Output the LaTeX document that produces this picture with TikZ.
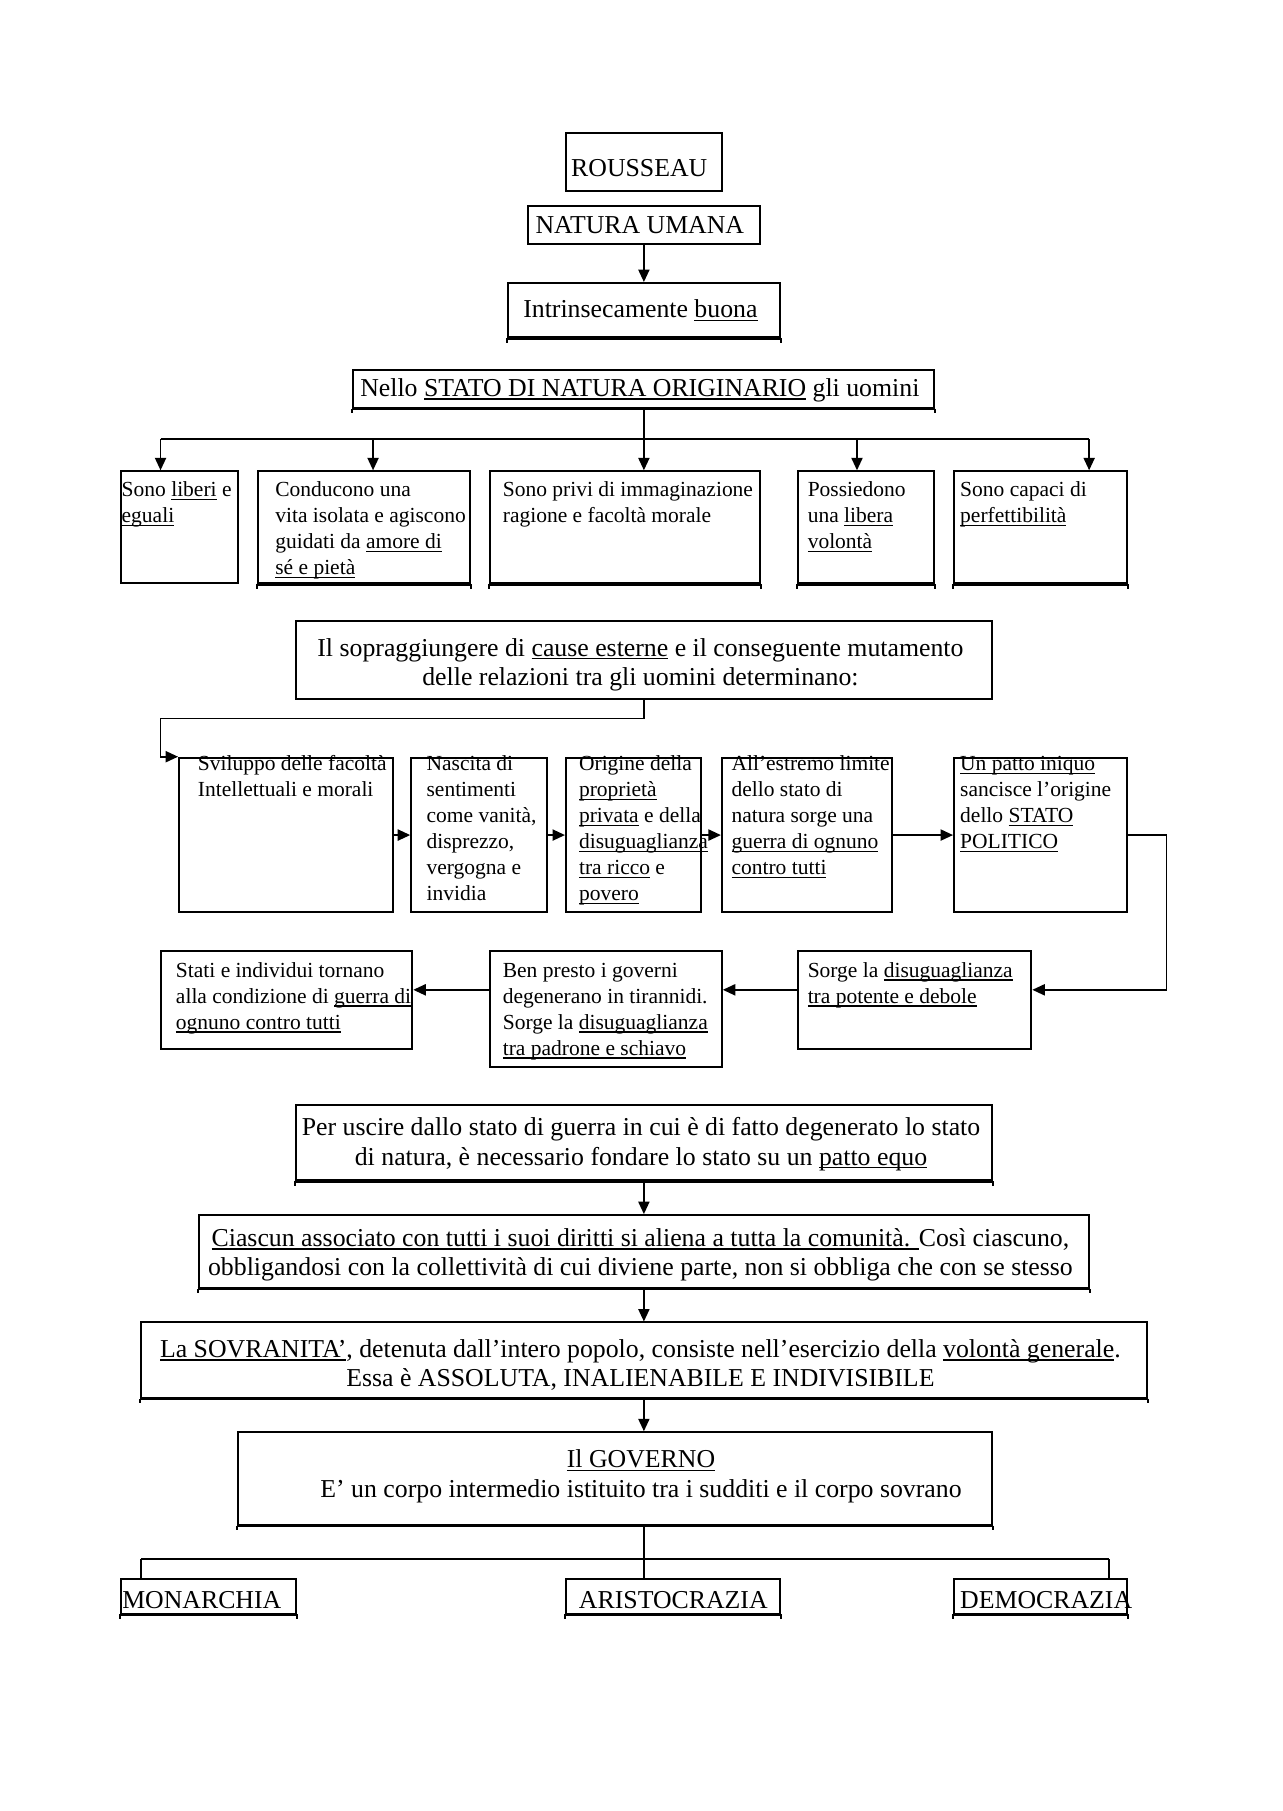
\documentclass[tikz,border=0pt]{standalone}
\usepackage{fontspec}
\setmainfont{Liberation Serif}
\usetikzlibrary{fit,arrows.meta}
\newcommand{\fsmall}{\fontsize{10}{12.1}\selectfont}
\newcommand{\fbig}{\fontsize{12}{13.8}\selectfont}
\newcommand{\uline}[1]{\leavevmode\setbox0\hbox{#1}\rlap{\rule[-1.6pt]{\wd0}{0.55pt}}\box0\relax}
\begin{document}
\begin{tikzpicture}[x=0.5373pt, y=-0.5373pt,
  bx/.style={draw=black, line width=0.9pt, inner sep=0pt},
  btick/.style={append after command={
     (\tikzlastnode.south west) edge[line width=1.4pt] (\tikzlastnode.south east)
     (\tikzlastnode.south west) edge[line width=0.9pt] ([yshift=-2pt]\tikzlastnode.south west)
     (\tikzlastnode.south east) edge[line width=0.9pt] ([yshift=-2pt]\tikzlastnode.south east)}},
  txt/.style={anchor=base west, inner sep=0pt, align=flush left, font=\fsmall, text width=150pt},
  ctxt/.style={anchor=base, inner sep=0pt, align=flush center, font=\fbig, text width=500pt},
  ltxt/.style={anchor=base west, inner sep=0pt, font=\fbig},
  ln/.style={line width=0.75pt},
  arr/.style={ln, -{Triangle[length=5.8pt,width=5.2pt]}}]

\fill[white] (0,0) rectangle (1108,1568);

% top
\node[bx, fit={(490,115) (625,165)}] (rou) {};
\node[ctxt] (rout) at (553.5,153) {ROUSSEAU};
\node[bx, fit={(457,178) (658,211)}] (nat) {};
\node[ctxt] (natt) at (554,202) {NATURA UMANA};
\node[bx, btick, fit={(440,245) (675,292)}] (intr) {};
\node[ctxt] (intrt) at (554.5,275) {Intrinsecamente \uline{buona}};
\node[bx, btick, fit={(306,320) (809,353)}] (nel) {};
\node[ctxt] (nelt) at (554,343) {Nello \uline{STATO DI NATURA ORIGINARIO} gli uomini};

% row 1
\node[bx, fit={(105,408) (206,505)}] (b1) {};
\node[bx, btick, fit={(223,408) (407,505)}] (b2) {};
\node[bx, btick, fit={(424,408) (658,505)}] (b3) {};
\node[bx, btick, fit={(691,408) (809,505)}] (b4) {};
\node[bx, btick, fit={(826,408) (976,505)}] (b5) {};
\node[txt] (t1) at (105,430) {Sono \uline{liberi} e\\\uline{eguali}};
\node[txt] (t2) at (238,430) {Conducono una\\vita isolata e agiscono\\guidati da \uline{amore di}\\\uline{sé e pietà}};
\node[txt] (t3) at (435,430) {Sono privi di immaginazione\\ragione e facoltà morale};
\node[txt] (t4) at (699,430) {Possiedono\\una \uline{libera}\\\uline{volontà}};
\node[txt] (t5) at (831,430) {Sono capaci di\\\uline{perfettibilità}};

\node[bx, fit={(256,538) (859,605)}] (sop) {};
\node[ctxt] (sopt) at (554.5,568) {Il sopraggiungere di \uline{cause esterne} e il conseguente mutamento\\delle relazioni tra gli uomini determinano:};

% row 2
\node[bx, fit={(155,656) (340,790)}] (s1) {};
\node[bx, fit={(356,656) (474,790)}] (s2) {};
\node[bx, fit={(490,656) (607,790)}] (s3) {};
\node[bx, fit={(625,656) (772,790)}] (s4) {};
\node[bx, fit={(826,656) (976,790)}] (s5) {};
\node[txt] (u1) at (171,667) {Sviluppo delle facoltà\\Intellettuali e morali};
\node[txt] (u2) at (369,667) {Nascita di\\sentimenti\\come vanità,\\disprezzo,\\vergogna e\\invidia};
\node[txt] (u3) at (501,667) {Origine della\\\uline{proprietà}\\\uline{privata} e della\\\uline{disuguaglianza}\\\uline{tra ricco} e\\\uline{povero}};
\node[txt] (u4) at (633,667) {All’estremo limite\\dello stato di\\natura sorge una\\\uline{guerra di ognuno}\\\uline{contro tutti}};
\node[txt] (u5) at (831,667) {\uline{Un patto iniquo}\\sancisce l’origine\\dello \uline{STATO}\\\uline{POLITICO}};

% row 3
\node[bx, fit={(691,823) (893,908)}] (r1) {};
\node[bx, fit={(424,823) (625,924)}] (r2) {};
\node[bx, fit={(139,823) (357,908)}] (r3) {};
\node[txt] (v1) at (699,846) {Sorge la \uline{disuguaglianza}\\\uline{tra potente e debole}};
\node[txt] (v2) at (435,846) {Ben presto i governi\\degenerano in tirannidi.\\Sorge la \uline{disuguaglianza}\\\uline{tra padrone e schiavo}};
\node[txt] (v3) at (152,846) {Stati e individui tornano\\alla condizione di \uline{guerra di}\\\uline{ognuno contro tutti}};

% lower chain
\node[bx, btick, fit={(256,957) (859,1022)}] (per) {};
\node[ctxt] (pert) at (555,983) {Per uscire dallo stato di guerra in cui è di fatto degenerato lo stato\\di natura, è necessario fondare lo stato su un \uline{patto equo}};
\node[bx, btick, fit={(172,1052) (943,1115)}] (cia) {};
\node[ctxt] (ciat) at (554.5,1079) {\uline{Ciascun associato con tutti i suoi diritti si aliena a tutta la comunità. }Così ciascuno,\\obbligandosi con la collettività di cui diviene parte, non si obbliga che con se stesso};
\node[bx, btick, fit={(122,1145) (993,1210)}] (sov) {};
\node[ctxt] (sovt) at (554.5,1175) {\uline{La SOVRANITA’}, detenuta dall’intero popolo, consiste nell’esercizio della \uline{volontà generale}.\\Essa è ASSOLUTA, INALIENABILE E INDIVISIBILE};
\node[bx, btick, fit={(206,1240) (859,1320)}] (gov) {};
\node[ctxt] (govt) at (555,1271) {\uline{Il GOVERNO}\\E’ un corpo intermedio istituito tra i sudditi e il corpo sovrano};

\node[bx, btick, fit={(105,1367) (256,1397)}] (mon) {};
\node[ltxt] (mont) at (105.5,1392.5) {MONARCHIA};
\node[bx, btick, fit={(490,1367) (675,1397)}] (ari) {};
\node[ctxt] (arit) at (583,1392.5) {ARISTOCRAZIA};
\node[bx, btick, fit={(826,1367) (976,1397)}] (dem) {};
\node[ltxt] (demt) at (831,1392.5) {DEMOCRAZIA};

% connectors
\draw[arr] (nat.south) -- (intr.north);
\draw[arr] (nel.south) -- (nel.south |- b3.north);
\coordinate (bl) at (139,380);
\coordinate (bd2) at (323,380);
\coordinate (bd4) at (742,380);
\coordinate (br) at (943,380);
\draw[ln] (bl) -- (br);
\draw[arr] (bl) -- (bl |- b1.north);
\draw[arr] (bd2) -- (bd2 |- b2.north);
\draw[arr] (bd4) -- (bd4 |- b4.north);
\draw[arr] (br) -- (br |- b5.north);

\coordinate (c1) at (139,622);
\draw[arr] (sop.south) |- (c1) |- (s1.north west);
\draw[arr] (s1.east) -- (s2.west);
\draw[arr] (s2.east) -- (s3.west);
\draw[arr] (s3.east) -- (s4.west);
\draw[arr] (s4.east) -- (s5.west);
\coordinate (c2) at (1010,857);
\draw[arr] (s5.east) -| (c2) -- (c2 -| r1.east);
\draw[arr] (c2 -| r1.west) -- (c2 -| r2.east);
\draw[arr] (c2 -| r2.west) -- (c2 -| r3.east);

\draw[arr] (per.south) -- (cia.north);
\draw[arr] (cia.south) -- (sov.north);
\draw[arr] (sov.south) -- (sov.south |- gov.north);
\draw[ln] (sov.south |- gov.south) -- (sov.south |- ari.north);
\coordinate (gl) at (122,1350);
\coordinate (gr) at (960,1350);
\draw[ln] (gl) -- (gr);
\draw[ln] (gl) -- (gl |- mon.north);
\draw[ln] (gr) -- (gr |- dem.north);
\end{tikzpicture}
\end{document}
